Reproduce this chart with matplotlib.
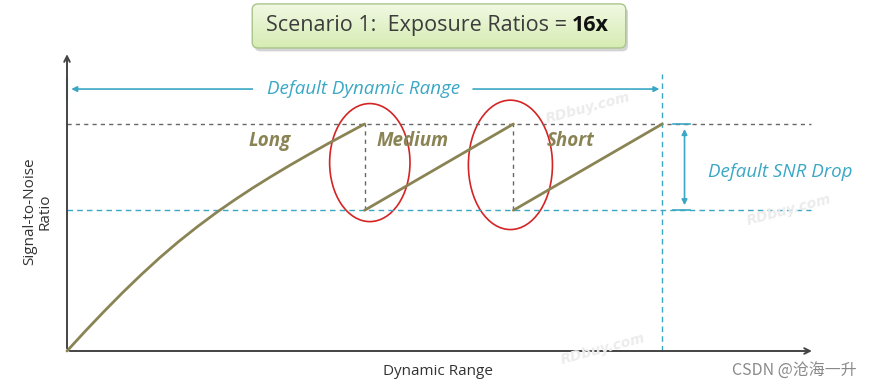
import numpy as np
import matplotlib.pyplot as plt
from matplotlib.patches import FancyBboxPatch, Ellipse
from matplotlib.colors import LinearSegmentedColormap

# exposure curves (x: dynamic range in stops, y: normalised SNR)
long_x = [0, 0.25, 0.5, 0.75, 1.0, 1.25, 1.5, 1.75, 2.0, 2.25, 2.5, 2.75, 3.0, 3.25, 3.5, 3.75, 4.0]
long_y = [0, 0.089, 0.175, 0.258, 0.337, 0.412, 0.482, 0.547, 0.608, 0.665, 0.719,
          0.770, 0.819, 0.866, 0.912, 0.956, 1.0]
medium_x = [4.0, 6.0]
medium_y = [0.62, 1.0]
short_x = [6.0, 8.0]
short_y = [0.62, 1.0]

snr_top = 1.0
snr_low = 0.62
range_end = 8.0
axis_end = 10.0

labels = ['Long', 'Medium', 'Short']
label_x = [2.73, 4.64, 6.77]
label_y = 0.925

olive = '#8a8455'
cyan = '#3aa7c4'
grey = '#666666'

fig = plt.figure(figsize=(8.72, 3.91), dpi=100)
ax = fig.add_axes([0, 0, 1, 1])
ax.axis('off')

# axes arrows
ax.annotate('', xy=(0, 1.32), xytext=(0, 0),
            arrowprops=dict(arrowstyle='->', color='#444444', lw=1.4))
ax.annotate('', xy=(10.05, 0), xytext=(0, 0),
            arrowprops=dict(arrowstyle='->', color='#444444', lw=1.4))

# reference lines
ax.plot([0, axis_end], [snr_top, snr_top], ls=(0, (3, 3)), color=grey, lw=1)
ax.plot([0, axis_end], [snr_low, snr_low], ls=(0, (4, 3)), color=cyan, lw=1)
ax.plot([range_end, range_end], [0, 1.22], ls=(0, (4, 3)), color=cyan, lw=1)
ax.plot([4.0, 4.0], [snr_low, snr_top], ls=(0, (3, 3)), color=grey, lw=1)
ax.plot([6.0, 6.0], [snr_low, snr_top], ls=(0, (3, 3)), color=grey, lw=1)

# curves
for xs, ys in [(long_x, long_y), (medium_x, medium_y), (short_x, short_y)]:
    ax.plot(xs, ys, color=olive, lw=2, solid_capstyle='round', solid_joinstyle='round')

for lab, lx in zip(labels, label_x):
    ax.text(lx, label_y, lab, color=olive, fontsize=13.5, fontweight='bold',
            fontstyle='italic', ha='center', va='center', family='Open Sans')

# default dynamic range arrow
dr_y = 1.154
ax.plot([0, 0], [1.11, 1.20], color=cyan, lw=1.5)
ax.annotate('', xy=(0.02, dr_y), xytext=(2.53, dr_y),
            arrowprops=dict(arrowstyle='-|>', color=cyan, lw=1.2, mutation_scale=8))
ax.annotate('', xy=(range_end, dr_y), xytext=(5.42, dr_y),
            arrowprops=dict(arrowstyle='-|>', color=cyan, lw=1.2, mutation_scale=8))
ax.text(3.98, dr_y, 'Default Dynamic Range', color=cyan, fontsize=13.5,
        fontstyle='italic', ha='center', va='center', family='Open Sans')

# snr drop arrow
ax.plot([8.14, 8.38], [snr_top, snr_top], color=cyan, lw=1.2)
ax.plot([8.14, 8.38], [snr_low, snr_low], color=cyan, lw=1.2)
ax.annotate('', xy=(8.30, snr_top - 0.01), xytext=(8.30, snr_low + 0.01),
            arrowprops=dict(arrowstyle='<|-|>', color=cyan, lw=1.2, mutation_scale=8))
ax.text(8.62, 0.79, 'Default SNR Drop', color=cyan, fontsize=13.5,
        fontstyle='italic', ha='left', va='center', family='Open Sans')

# red hand-drawn circles
ax.add_patch(Ellipse((4.07, 0.83), 1.08, 0.52, fill=False, ec='#d42424', lw=1.2))
ax.add_patch(Ellipse((5.96, 0.82), 1.13, 0.57, fill=False, ec='#d42424', lw=1.2))

# axis labels
ax.text(4.99, -0.09, 'Dynamic Range', fontsize=11, color='#333333',
        ha='center', va='center', family='Open Sans')
ax.text(-0.395, 0.615, 'Signal-to-Noise\nRatio', fontsize=11, color='#333333',
        ha='center', va='center', rotation=90, family='Open Sans', linespacing=1.0)

# watermarks
for wx, wy in [(7.0, 1.07), (9.7, 0.62), (7.2, 0.01)]:
    ax.text(wx, wy, 'RDbuy.com', fontsize=10, color='#ececec', fontweight='bold',
            fontstyle='italic', rotation=15, ha='center', va='center')

# title box
x0, x1 = 2.49, 7.51
y0, y1 = 1.335, 1.529
shadow = FancyBboxPatch((x0 + 0.03, y0 - 0.015), x1 - x0, y1 - y0,
                        boxstyle='round,pad=0,rounding_size=0.08',
                        fc='#d4d4d4', ec='none', mutation_aspect=0.3)
ax.add_patch(shadow)
box = FancyBboxPatch((x0, y0), x1 - x0, y1 - y0,
                     boxstyle='round,pad=0,rounding_size=0.08',
                     fc='none', ec='#a9c58a', lw=1.0, mutation_aspect=0.3, zorder=3)
ax.add_patch(box)
grad = np.linspace(0, 1, 50).reshape(-1, 1)
img = ax.imshow(grad, extent=[x0, x1, y0, y1], origin='lower', aspect='auto',
                cmap=LinearSegmentedColormap.from_list('g', ['#d6ecb3', '#f1f9e3']),
                zorder=2)
img.set_clip_path(box)
ax.text(6.79, 1.432, 'Scenario 1:  Exposure Ratios = ', fontsize=15.5,
        color='#3c3c3c', ha='right', va='center', family='Open Sans', zorder=4)
ax.text(6.79, 1.432, '16x', fontsize=15.5, fontweight='bold', color='#111111',
        ha='left', va='center', family='Open Sans', zorder=4)

ax.text(10.62, -0.09, 'CSDN @沧海一升', fontsize=11.5, color='#8a8a8a',
        ha='right', va='center', family=['Noto Sans CJK SC', 'DejaVu Sans'])

ax.set_xlim(-67 / 74.4, (872 - 67) / 74.4)
ax.set_ylim(-40 / 227, 351 / 227)

fig.savefig('out.png', dpi=100)
